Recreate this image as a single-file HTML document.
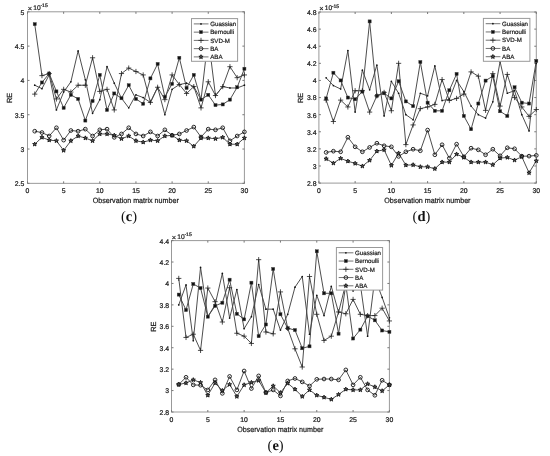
<!DOCTYPE html>
<html><head><meta charset="utf-8"><style>
html,body{margin:0;padding:0;background:#fff;}
svg{display:block;text-rendering:geometricPrecision;filter:blur(0.3px);}
.tl{font-family:"Liberation Sans",Arial,sans-serif;font-size:6.85px;fill:#1a1a1a;stroke:#1a1a1a;stroke-width:0.22px;}
.sup{font-size:5px;}
.xl{font-family:"Liberation Sans",Arial,sans-serif;font-size:7.6px;fill:#1a1a1a;stroke:#1a1a1a;stroke-width:0.22px;}
.lg{font-family:"Liberation Sans",Arial,sans-serif;font-size:6.15px;fill:#1a1a1a;stroke:#1a1a1a;stroke-width:0.2px;}
.cap{font-family:"Liberation Serif","Times New Roman",serif;font-size:14.5px;fill:#111;}
</style></head><body>
<svg width="550" height="456" viewBox="0 0 550 456">
<rect width="550" height="456" fill="#fff"/>
<rect x="27.5" y="11.8" width="216.9" height="171.55" fill="none" stroke="#999" stroke-width="1"/>
<path d="M27.5 183.35v-2M27.5 11.8v2M63.65 183.35v-2M63.65 11.8v2M99.8 183.35v-2M99.8 11.8v2M135.95 183.35v-2M135.95 11.8v2M172.1 183.35v-2M172.1 11.8v2M208.25 183.35v-2M208.25 11.8v2M244.4 183.35v-2M244.4 11.8v2M27.5 183.35h2M244.4 183.35h-2M27.5 149.04h2M244.4 149.04h-2M27.5 114.73h2M244.4 114.73h-2M27.5 80.42h2M244.4 80.42h-2M27.5 46.11h2M244.4 46.11h-2M27.5 11.8h2M244.4 11.8h-2" stroke="#777" stroke-width="1" fill="none"/>
<g>
<polyline points="34.73,85.22 41.96,88.65 49.19,74.93 56.42,109.93 63.65,92.09 70.88,81.79 78.11,50.91 85.34,79.73 92.57,113.36 99.8,99.63 107.03,66.7 114.26,83.16 121.49,98.26 128.72,107.87 135.95,94.83 143.18,97.58 150.41,102.38 157.64,87.28 164.87,114.73 172.1,89.34 179.33,84.54 186.56,83.16 193.79,86.6 201.02,99.63 208.25,37.19 215.48,95.52 222.71,86.6 229.94,87.97 237.17,87.97 244.4,85.22" fill="none" stroke="#444" stroke-width="0.95" stroke-linejoin="miter"/>
<polyline points="34.73,24.15 41.96,75.62 49.19,73.56 56.42,91.4 63.65,107.87 70.88,94.83 78.11,98.95 85.34,120.56 92.57,101.01 99.8,74.93 107.03,109.93 114.26,93.46 121.49,98.26 128.72,85.22 135.95,98.95 143.18,103.75 150.41,78.36 157.64,63.95 164.87,96.89 172.1,83.85 179.33,57.78 186.56,87.97 193.79,74.93 201.02,99.63 208.25,94.83 215.48,105.12 222.71,104.44 229.94,99.63 237.17,87.28 244.4,68.75" fill="none" stroke="#444" stroke-width="0.95" stroke-linejoin="miter"/>
<polyline points="34.73,94.14 41.96,82.48 49.19,73.56 56.42,98.95 63.65,89.34 70.88,92.09 78.11,85.22 85.34,85.22 92.57,57.78 99.8,91.4 107.03,89.34 114.26,109.93 121.49,73.56 128.72,68.07 135.95,71.5 143.18,74.93 150.41,102.38 157.64,87.28 164.87,99.63 172.1,74.93 179.33,84.54 186.56,93.46 193.79,86.6 201.02,107.87 208.25,81.79 215.48,95.52 222.71,86.6 229.94,66.7 237.17,77.68 244.4,74.93" fill="none" stroke="#444" stroke-width="0.95" stroke-linejoin="miter"/>
<polyline points="34.73,131.2 41.96,132.57 49.19,136 56.42,127.77 63.65,140.12 70.88,130.51 78.11,131.2 85.34,129.14 92.57,136 99.8,129.83 107.03,129.14 114.26,137.37 121.49,133.94 128.72,127.77 135.95,133.94 143.18,136 150.41,131.88 157.64,136 164.87,129.83 172.1,135.32 179.33,133.94 186.56,130.51 193.79,127.08 201.02,137.03 208.25,129.14 215.48,129.83 222.71,127.77 229.94,140.81 237.17,136 244.4,131.88" fill="none" stroke="#444" stroke-width="0.95" stroke-linejoin="miter"/>
<polyline points="34.73,144.24 41.96,137.37 49.19,140.12 56.42,140.81 63.65,150.41 70.88,140.81 78.11,136 85.34,138.06 92.57,140.81 99.8,133.94 107.03,133.94 114.26,135.32 121.49,138.75 128.72,136 135.95,140.81 143.18,142.18 150.41,140.12 157.64,140.81 164.87,136 172.1,135.32 179.33,140.12 186.56,140.81 193.79,146.3 201.02,138.06 208.25,138.06 215.48,138.75 222.71,137.37 229.94,144.24 237.17,144.24 244.4,138.06" fill="none" stroke="#444" stroke-width="0.95" stroke-linejoin="miter"/>
<circle cx="34.73" cy="85.22" r="0.85" fill="#111"/>
<circle cx="41.96" cy="88.65" r="0.85" fill="#111"/>
<circle cx="49.19" cy="74.93" r="0.85" fill="#111"/>
<circle cx="56.42" cy="109.93" r="0.85" fill="#111"/>
<circle cx="63.65" cy="92.09" r="0.85" fill="#111"/>
<circle cx="70.88" cy="81.79" r="0.85" fill="#111"/>
<circle cx="78.11" cy="50.91" r="0.85" fill="#111"/>
<circle cx="85.34" cy="79.73" r="0.85" fill="#111"/>
<circle cx="92.57" cy="113.36" r="0.85" fill="#111"/>
<circle cx="99.8" cy="99.63" r="0.85" fill="#111"/>
<circle cx="107.03" cy="66.7" r="0.85" fill="#111"/>
<circle cx="114.26" cy="83.16" r="0.85" fill="#111"/>
<circle cx="121.49" cy="98.26" r="0.85" fill="#111"/>
<circle cx="128.72" cy="107.87" r="0.85" fill="#111"/>
<circle cx="135.95" cy="94.83" r="0.85" fill="#111"/>
<circle cx="143.18" cy="97.58" r="0.85" fill="#111"/>
<circle cx="150.41" cy="102.38" r="0.85" fill="#111"/>
<circle cx="157.64" cy="87.28" r="0.85" fill="#111"/>
<circle cx="164.87" cy="114.73" r="0.85" fill="#111"/>
<circle cx="172.1" cy="89.34" r="0.85" fill="#111"/>
<circle cx="179.33" cy="84.54" r="0.85" fill="#111"/>
<circle cx="186.56" cy="83.16" r="0.85" fill="#111"/>
<circle cx="193.79" cy="86.6" r="0.85" fill="#111"/>
<circle cx="201.02" cy="99.63" r="0.85" fill="#111"/>
<circle cx="208.25" cy="37.19" r="0.85" fill="#111"/>
<circle cx="215.48" cy="95.52" r="0.85" fill="#111"/>
<circle cx="222.71" cy="86.6" r="0.85" fill="#111"/>
<circle cx="229.94" cy="87.97" r="0.85" fill="#111"/>
<circle cx="237.17" cy="87.97" r="0.85" fill="#111"/>
<circle cx="244.4" cy="85.22" r="0.85" fill="#111"/>
<rect x="33.18" y="22.6" width="3.1" height="3.1" fill="#111" stroke="#444" stroke-width="0.45"/>
<path d="M39.36 75.62H44.56M41.96 73.02V78.22" stroke="#222" stroke-width="0.8" fill="none"/>
<rect x="47.64" y="72.01" width="3.1" height="3.1" fill="#111" stroke="#444" stroke-width="0.45"/>
<rect x="54.87" y="89.85" width="3.1" height="3.1" fill="#111" stroke="#444" stroke-width="0.45"/>
<rect x="62.1" y="106.32" width="3.1" height="3.1" fill="#111" stroke="#444" stroke-width="0.45"/>
<rect x="69.33" y="93.28" width="3.1" height="3.1" fill="#111" stroke="#444" stroke-width="0.45"/>
<rect x="76.56" y="97.4" width="3.1" height="3.1" fill="#111" stroke="#444" stroke-width="0.45"/>
<rect x="83.79" y="119.01" width="3.1" height="3.1" fill="#111" stroke="#444" stroke-width="0.45"/>
<rect x="91.02" y="99.46" width="3.1" height="3.1" fill="#111" stroke="#444" stroke-width="0.45"/>
<rect x="98.25" y="73.38" width="3.1" height="3.1" fill="#111" stroke="#444" stroke-width="0.45"/>
<rect x="105.48" y="108.38" width="3.1" height="3.1" fill="#111" stroke="#444" stroke-width="0.45"/>
<rect x="112.71" y="91.91" width="3.1" height="3.1" fill="#111" stroke="#444" stroke-width="0.45"/>
<rect x="119.94" y="96.71" width="3.1" height="3.1" fill="#111" stroke="#444" stroke-width="0.45"/>
<rect x="127.17" y="83.67" width="3.1" height="3.1" fill="#111" stroke="#444" stroke-width="0.45"/>
<rect x="134.4" y="97.4" width="3.1" height="3.1" fill="#111" stroke="#444" stroke-width="0.45"/>
<rect x="141.63" y="102.2" width="3.1" height="3.1" fill="#111" stroke="#444" stroke-width="0.45"/>
<rect x="148.86" y="76.81" width="3.1" height="3.1" fill="#111" stroke="#444" stroke-width="0.45"/>
<rect x="156.09" y="62.4" width="3.1" height="3.1" fill="#111" stroke="#444" stroke-width="0.45"/>
<rect x="163.32" y="95.34" width="3.1" height="3.1" fill="#111" stroke="#444" stroke-width="0.45"/>
<rect x="170.55" y="82.3" width="3.1" height="3.1" fill="#111" stroke="#444" stroke-width="0.45"/>
<rect x="177.78" y="56.23" width="3.1" height="3.1" fill="#111" stroke="#444" stroke-width="0.45"/>
<rect x="185.01" y="86.42" width="3.1" height="3.1" fill="#111" stroke="#444" stroke-width="0.45"/>
<rect x="192.24" y="73.38" width="3.1" height="3.1" fill="#111" stroke="#444" stroke-width="0.45"/>
<rect x="199.47" y="98.08" width="3.1" height="3.1" fill="#111" stroke="#444" stroke-width="0.45"/>
<rect x="206.7" y="93.28" width="3.1" height="3.1" fill="#111" stroke="#444" stroke-width="0.45"/>
<rect x="213.93" y="103.57" width="3.1" height="3.1" fill="#111" stroke="#444" stroke-width="0.45"/>
<rect x="221.16" y="102.89" width="3.1" height="3.1" fill="#111" stroke="#444" stroke-width="0.45"/>
<rect x="228.39" y="98.08" width="3.1" height="3.1" fill="#111" stroke="#444" stroke-width="0.45"/>
<rect x="235.62" y="85.73" width="3.1" height="3.1" fill="#111" stroke="#444" stroke-width="0.45"/>
<rect x="242.85" y="67.2" width="3.1" height="3.1" fill="#111" stroke="#444" stroke-width="0.45"/>
<path d="M32.13 94.14H37.33M34.73 91.54V96.74" stroke="#222" stroke-width="0.8" fill="none"/>
<rect x="40.41" y="80.93" width="3.1" height="3.1" fill="#111" stroke="#444" stroke-width="0.45"/>
<path d="M46.59 73.56H51.79M49.19 70.96V76.16" stroke="#222" stroke-width="0.8" fill="none"/>
<path d="M53.82 98.95H59.02M56.42 96.35V101.55" stroke="#222" stroke-width="0.8" fill="none"/>
<path d="M61.05 89.34H66.25M63.65 86.74V91.94" stroke="#222" stroke-width="0.8" fill="none"/>
<path d="M68.28 92.09H73.48M70.88 89.49V94.69" stroke="#222" stroke-width="0.8" fill="none"/>
<path d="M75.51 85.22H80.71M78.11 82.62V87.82" stroke="#222" stroke-width="0.8" fill="none"/>
<path d="M82.74 85.22H87.94M85.34 82.62V87.82" stroke="#222" stroke-width="0.8" fill="none"/>
<path d="M89.97 57.78H95.17M92.57 55.18V60.38" stroke="#222" stroke-width="0.8" fill="none"/>
<path d="M97.2 91.4H102.4M99.8 88.8V94" stroke="#222" stroke-width="0.8" fill="none"/>
<path d="M104.43 89.34H109.63M107.03 86.74V91.94" stroke="#222" stroke-width="0.8" fill="none"/>
<path d="M111.66 109.93H116.86M114.26 107.33V112.53" stroke="#222" stroke-width="0.8" fill="none"/>
<path d="M118.89 73.56H124.09M121.49 70.96V76.16" stroke="#222" stroke-width="0.8" fill="none"/>
<path d="M126.12 68.07H131.32M128.72 65.47V70.67" stroke="#222" stroke-width="0.8" fill="none"/>
<path d="M133.35 71.5H138.55M135.95 68.9V74.1" stroke="#222" stroke-width="0.8" fill="none"/>
<path d="M140.58 74.93H145.78M143.18 72.33V77.53" stroke="#222" stroke-width="0.8" fill="none"/>
<path d="M147.81 102.38H153.01M150.41 99.78V104.98" stroke="#222" stroke-width="0.8" fill="none"/>
<path d="M155.04 87.28H160.24M157.64 84.68V89.88" stroke="#222" stroke-width="0.8" fill="none"/>
<path d="M162.27 99.63H167.47M164.87 97.03V102.23" stroke="#222" stroke-width="0.8" fill="none"/>
<path d="M169.5 74.93H174.7M172.1 72.33V77.53" stroke="#222" stroke-width="0.8" fill="none"/>
<path d="M176.73 84.54H181.93M179.33 81.94V87.14" stroke="#222" stroke-width="0.8" fill="none"/>
<path d="M183.96 93.46H189.16M186.56 90.86V96.06" stroke="#222" stroke-width="0.8" fill="none"/>
<path d="M191.19 86.6H196.39M193.79 84V89.2" stroke="#222" stroke-width="0.8" fill="none"/>
<path d="M198.42 107.87H203.62M201.02 105.27V110.47" stroke="#222" stroke-width="0.8" fill="none"/>
<path d="M205.65 81.79H210.85M208.25 79.19V84.39" stroke="#222" stroke-width="0.8" fill="none"/>
<path d="M212.88 95.52H218.08M215.48 92.92V98.12" stroke="#222" stroke-width="0.8" fill="none"/>
<path d="M220.11 86.6H225.31M222.71 84V89.2" stroke="#222" stroke-width="0.8" fill="none"/>
<path d="M227.34 66.7H232.54M229.94 64.1V69.3" stroke="#222" stroke-width="0.8" fill="none"/>
<path d="M234.57 77.68H239.77M237.17 75.08V80.28" stroke="#222" stroke-width="0.8" fill="none"/>
<path d="M241.8 74.93H247M244.4 72.33V77.53" stroke="#222" stroke-width="0.8" fill="none"/>
<circle cx="34.73" cy="131.2" r="1.85" fill="none" stroke="#111" stroke-width="0.9"/>
<circle cx="41.96" cy="132.57" r="1.85" fill="none" stroke="#111" stroke-width="0.9"/>
<circle cx="49.19" cy="136" r="1.85" fill="none" stroke="#111" stroke-width="0.9"/>
<circle cx="56.42" cy="127.77" r="1.85" fill="none" stroke="#111" stroke-width="0.9"/>
<circle cx="63.65" cy="140.12" r="1.85" fill="none" stroke="#111" stroke-width="0.9"/>
<circle cx="70.88" cy="130.51" r="1.85" fill="none" stroke="#111" stroke-width="0.9"/>
<circle cx="78.11" cy="131.2" r="1.85" fill="none" stroke="#111" stroke-width="0.9"/>
<circle cx="85.34" cy="129.14" r="1.85" fill="none" stroke="#111" stroke-width="0.9"/>
<circle cx="92.57" cy="136" r="1.85" fill="none" stroke="#111" stroke-width="0.9"/>
<circle cx="99.8" cy="129.83" r="1.85" fill="none" stroke="#111" stroke-width="0.9"/>
<circle cx="107.03" cy="129.14" r="1.85" fill="none" stroke="#111" stroke-width="0.9"/>
<circle cx="114.26" cy="137.37" r="1.85" fill="none" stroke="#111" stroke-width="0.9"/>
<circle cx="121.49" cy="133.94" r="1.85" fill="none" stroke="#111" stroke-width="0.9"/>
<circle cx="128.72" cy="127.77" r="1.85" fill="none" stroke="#111" stroke-width="0.9"/>
<circle cx="135.95" cy="133.94" r="1.85" fill="none" stroke="#111" stroke-width="0.9"/>
<circle cx="143.18" cy="136" r="1.85" fill="none" stroke="#111" stroke-width="0.9"/>
<circle cx="150.41" cy="131.88" r="1.85" fill="none" stroke="#111" stroke-width="0.9"/>
<circle cx="157.64" cy="136" r="1.85" fill="none" stroke="#111" stroke-width="0.9"/>
<circle cx="164.87" cy="129.83" r="1.85" fill="none" stroke="#111" stroke-width="0.9"/>
<circle cx="172.1" cy="135.32" r="1.85" fill="none" stroke="#111" stroke-width="0.9"/>
<circle cx="179.33" cy="133.94" r="1.85" fill="none" stroke="#111" stroke-width="0.9"/>
<circle cx="186.56" cy="130.51" r="1.85" fill="none" stroke="#111" stroke-width="0.9"/>
<circle cx="193.79" cy="127.08" r="1.85" fill="none" stroke="#111" stroke-width="0.9"/>
<circle cx="201.02" cy="137.03" r="1.85" fill="none" stroke="#111" stroke-width="0.9"/>
<circle cx="208.25" cy="129.14" r="1.85" fill="none" stroke="#111" stroke-width="0.9"/>
<circle cx="215.48" cy="129.83" r="1.85" fill="none" stroke="#111" stroke-width="0.9"/>
<circle cx="222.71" cy="127.77" r="1.85" fill="none" stroke="#111" stroke-width="0.9"/>
<circle cx="229.94" cy="140.81" r="1.85" fill="none" stroke="#111" stroke-width="0.9"/>
<circle cx="237.17" cy="136" r="1.85" fill="none" stroke="#111" stroke-width="0.9"/>
<circle cx="244.4" cy="131.88" r="1.85" fill="none" stroke="#111" stroke-width="0.9"/>
<polygon points="34.73,142.04 35.29,143.47 36.82,143.56 35.63,144.53 36.02,146.02 34.73,145.19 33.44,146.02 33.83,144.53 32.64,143.56 34.17,143.47" fill="#555" stroke="#111" stroke-width="0.85" stroke-linejoin="miter"/>
<polygon points="41.96,135.17 42.52,136.61 44.05,136.69 42.86,137.67 43.25,139.15 41.96,138.32 40.67,139.15 41.06,137.67 39.87,136.69 41.4,136.61" fill="#555" stroke="#111" stroke-width="0.85" stroke-linejoin="miter"/>
<polygon points="49.19,137.92 49.75,139.35 51.28,139.44 50.09,140.41 50.48,141.9 49.19,141.07 47.9,141.9 48.29,140.41 47.1,139.44 48.63,139.35" fill="#555" stroke="#111" stroke-width="0.85" stroke-linejoin="miter"/>
<polygon points="56.42,138.61 56.98,140.04 58.51,140.13 57.32,141.1 57.71,142.59 56.42,141.76 55.13,142.59 55.52,141.1 54.33,140.13 55.86,140.04" fill="#555" stroke="#111" stroke-width="0.85" stroke-linejoin="miter"/>
<polygon points="63.65,148.21 64.21,149.64 65.74,149.73 64.55,150.71 64.94,152.19 63.65,151.36 62.36,152.19 62.75,150.71 61.56,149.73 63.09,149.64" fill="#555" stroke="#111" stroke-width="0.85" stroke-linejoin="miter"/>
<polygon points="70.88,138.61 71.44,140.04 72.97,140.13 71.78,141.1 72.17,142.59 70.88,141.76 69.59,142.59 69.98,141.1 68.79,140.13 70.32,140.04" fill="#555" stroke="#111" stroke-width="0.85" stroke-linejoin="miter"/>
<polygon points="78.11,133.8 78.67,135.23 80.2,135.32 79.01,136.3 79.4,137.78 78.11,136.95 76.82,137.78 77.21,136.3 76.02,135.32 77.55,135.23" fill="#555" stroke="#111" stroke-width="0.85" stroke-linejoin="miter"/>
<polygon points="85.34,135.86 85.9,137.29 87.43,137.38 86.24,138.35 86.63,139.84 85.34,139.01 84.05,139.84 84.44,138.35 83.25,137.38 84.78,137.29" fill="#555" stroke="#111" stroke-width="0.85" stroke-linejoin="miter"/>
<polygon points="92.57,138.61 93.13,140.04 94.66,140.13 93.47,141.1 93.86,142.59 92.57,141.76 91.28,142.59 91.67,141.1 90.48,140.13 92.01,140.04" fill="#555" stroke="#111" stroke-width="0.85" stroke-linejoin="miter"/>
<polygon points="99.8,131.74 100.36,133.18 101.89,133.26 100.7,134.24 101.09,135.72 99.8,134.89 98.51,135.72 98.9,134.24 97.71,133.26 99.24,133.18" fill="#555" stroke="#111" stroke-width="0.85" stroke-linejoin="miter"/>
<polygon points="107.03,131.74 107.59,133.18 109.12,133.26 107.93,134.24 108.32,135.72 107.03,134.89 105.74,135.72 106.13,134.24 104.94,133.26 106.47,133.18" fill="#555" stroke="#111" stroke-width="0.85" stroke-linejoin="miter"/>
<polygon points="114.26,133.12 114.82,134.55 116.35,134.64 115.16,135.61 115.55,137.1 114.26,136.27 112.97,137.1 113.36,135.61 112.17,134.64 113.7,134.55" fill="#555" stroke="#111" stroke-width="0.85" stroke-linejoin="miter"/>
<polygon points="121.49,136.55 122.05,137.98 123.58,138.07 122.39,139.04 122.78,140.53 121.49,139.7 120.2,140.53 120.59,139.04 119.4,138.07 120.93,137.98" fill="#555" stroke="#111" stroke-width="0.85" stroke-linejoin="miter"/>
<polygon points="128.72,133.8 129.28,135.23 130.81,135.32 129.62,136.3 130.01,137.78 128.72,136.95 127.43,137.78 127.82,136.3 126.63,135.32 128.16,135.23" fill="#555" stroke="#111" stroke-width="0.85" stroke-linejoin="miter"/>
<polygon points="135.95,138.61 136.51,140.04 138.04,140.13 136.85,141.1 137.24,142.59 135.95,141.76 134.66,142.59 135.05,141.1 133.86,140.13 135.39,140.04" fill="#555" stroke="#111" stroke-width="0.85" stroke-linejoin="miter"/>
<polygon points="143.18,139.98 143.74,141.41 145.27,141.5 144.08,142.47 144.47,143.96 143.18,143.13 141.89,143.96 142.28,142.47 141.09,141.5 142.62,141.41" fill="#555" stroke="#111" stroke-width="0.85" stroke-linejoin="miter"/>
<polygon points="150.41,137.92 150.97,139.35 152.5,139.44 151.31,140.41 151.7,141.9 150.41,141.07 149.12,141.9 149.51,140.41 148.32,139.44 149.85,139.35" fill="#555" stroke="#111" stroke-width="0.85" stroke-linejoin="miter"/>
<polygon points="157.64,138.61 158.2,140.04 159.73,140.13 158.54,141.1 158.93,142.59 157.64,141.76 156.35,142.59 156.74,141.1 155.55,140.13 157.08,140.04" fill="#555" stroke="#111" stroke-width="0.85" stroke-linejoin="miter"/>
<polygon points="164.87,133.8 165.43,135.23 166.96,135.32 165.77,136.3 166.16,137.78 164.87,136.95 163.58,137.78 163.97,136.3 162.78,135.32 164.31,135.23" fill="#555" stroke="#111" stroke-width="0.85" stroke-linejoin="miter"/>
<polygon points="172.1,133.12 172.66,134.55 174.19,134.64 173,135.61 173.39,137.1 172.1,136.27 170.81,137.1 171.2,135.61 170.01,134.64 171.54,134.55" fill="#555" stroke="#111" stroke-width="0.85" stroke-linejoin="miter"/>
<polygon points="179.33,137.92 179.89,139.35 181.42,139.44 180.23,140.41 180.62,141.9 179.33,141.07 178.04,141.9 178.43,140.41 177.24,139.44 178.77,139.35" fill="#555" stroke="#111" stroke-width="0.85" stroke-linejoin="miter"/>
<polygon points="186.56,138.61 187.12,140.04 188.65,140.13 187.46,141.1 187.85,142.59 186.56,141.76 185.27,142.59 185.66,141.1 184.47,140.13 186,140.04" fill="#555" stroke="#111" stroke-width="0.85" stroke-linejoin="miter"/>
<polygon points="193.79,144.1 194.35,145.53 195.88,145.62 194.69,146.59 195.08,148.08 193.79,147.25 192.5,148.08 192.89,146.59 191.7,145.62 193.23,145.53" fill="#555" stroke="#111" stroke-width="0.85" stroke-linejoin="miter"/>
<polygon points="201.02,135.86 201.58,137.29 203.11,137.38 201.92,138.35 202.31,139.84 201.02,139.01 199.73,139.84 200.12,138.35 198.93,137.38 200.46,137.29" fill="#555" stroke="#111" stroke-width="0.85" stroke-linejoin="miter"/>
<polygon points="208.25,135.86 208.81,137.29 210.34,137.38 209.15,138.35 209.54,139.84 208.25,139.01 206.96,139.84 207.35,138.35 206.16,137.38 207.69,137.29" fill="#555" stroke="#111" stroke-width="0.85" stroke-linejoin="miter"/>
<polygon points="215.48,136.55 216.04,137.98 217.57,138.07 216.38,139.04 216.77,140.53 215.48,139.7 214.19,140.53 214.58,139.04 213.39,138.07 214.92,137.98" fill="#555" stroke="#111" stroke-width="0.85" stroke-linejoin="miter"/>
<polygon points="222.71,135.17 223.27,136.61 224.8,136.69 223.61,137.67 224,139.15 222.71,138.32 221.42,139.15 221.81,137.67 220.62,136.69 222.15,136.61" fill="#555" stroke="#111" stroke-width="0.85" stroke-linejoin="miter"/>
<polygon points="229.94,142.04 230.5,143.47 232.03,143.56 230.84,144.53 231.23,146.02 229.94,145.19 228.65,146.02 229.04,144.53 227.85,143.56 229.38,143.47" fill="#555" stroke="#111" stroke-width="0.85" stroke-linejoin="miter"/>
<polygon points="237.17,142.04 237.73,143.47 239.26,143.56 238.07,144.53 238.46,146.02 237.17,145.19 235.88,146.02 236.27,144.53 235.08,143.56 236.61,143.47" fill="#555" stroke="#111" stroke-width="0.85" stroke-linejoin="miter"/>
<polygon points="244.4,135.86 244.96,137.29 246.49,137.38 245.3,138.35 245.69,139.84 244.4,139.01 243.11,139.84 243.5,138.35 242.31,137.38 243.84,137.29" fill="#555" stroke="#111" stroke-width="0.85" stroke-linejoin="miter"/>
</g>
<text x="27.5" y="193.15" class="tl" text-anchor="middle">0</text>
<text x="63.65" y="193.15" class="tl" text-anchor="middle">5</text>
<text x="99.8" y="193.15" class="tl" text-anchor="middle">10</text>
<text x="135.95" y="193.15" class="tl" text-anchor="middle">15</text>
<text x="172.1" y="193.15" class="tl" text-anchor="middle">20</text>
<text x="208.25" y="193.15" class="tl" text-anchor="middle">25</text>
<text x="244.4" y="193.15" class="tl" text-anchor="middle">30</text>
<text x="24.2" y="186.25" class="tl" text-anchor="end">2.5</text>
<text x="24.2" y="151.94" class="tl" text-anchor="end">3</text>
<text x="24.2" y="117.63" class="tl" text-anchor="end">3.5</text>
<text x="24.2" y="83.32" class="tl" text-anchor="end">4</text>
<text x="24.2" y="49.01" class="tl" text-anchor="end">4.5</text>
<text x="24.2" y="14.7" class="tl" text-anchor="end">5</text>
<text x="27.8" y="11" class="tl" style="font-size:7.4px">×</text>
<text x="33.3" y="9.9" class="tl" style="font-size:6.7px">10</text>
<text x="40.4" y="7.3" class="tl" style="font-size:5.1px">-15</text>
<text x="92.65" y="202.95" class="xl" textLength="86.2" lengthAdjust="spacingAndGlyphs">Observation matrix number</text>
<text transform="translate(11.6,97.98) rotate(-90)" class="tl" style="font-size:7.4px" text-anchor="middle">RE</text>
<rect x="191.5" y="18.6" width="46.1" height="42.7" fill="#fff" stroke="#999" stroke-width="1"/>
<line x1="193.8" y1="23.9" x2="208.5" y2="23.9" stroke="#444" stroke-width="0.75"/>
<circle cx="201" cy="23.9" r="0.85" fill="#111"/>
<text x="210.2" y="26.1" class="lg">Guassian</text>
<line x1="193.8" y1="32.15" x2="208.5" y2="32.15" stroke="#444" stroke-width="0.75"/>
<rect x="199.45" y="30.6" width="3.1" height="3.1" fill="#111" stroke="#444" stroke-width="0.45"/>
<text x="210.2" y="34.35" class="lg">Bernoulli</text>
<line x1="193.8" y1="40.4" x2="208.5" y2="40.4" stroke="#444" stroke-width="0.75"/>
<path d="M198.4 40.4H203.6M201 37.8V43" stroke="#222" stroke-width="0.8" fill="none"/>
<text x="210.2" y="42.6" class="lg">SVD-M</text>
<line x1="193.8" y1="48.65" x2="208.5" y2="48.65" stroke="#444" stroke-width="0.75"/>
<circle cx="201" cy="48.65" r="1.85" fill="none" stroke="#111" stroke-width="0.9"/>
<text x="210.2" y="50.85" class="lg">BA</text>
<line x1="193.8" y1="56.9" x2="208.5" y2="56.9" stroke="#444" stroke-width="0.75"/>
<polygon points="201,54.7 201.56,56.13 203.09,56.22 201.9,57.19 202.29,58.68 201,57.85 199.71,58.68 200.1,57.19 198.91,56.22 200.44,56.13" fill="#555" stroke="#111" stroke-width="0.85" stroke-linejoin="miter"/>
<text x="210.2" y="59.1" class="lg">ABA</text>
<text x="129" y="220.8" class="cap" text-anchor="middle">(<tspan font-weight="bold">c</tspan>)</text>
<rect x="318.9" y="12" width="217.4" height="171.1" fill="none" stroke="#999" stroke-width="1"/>
<path d="M318.9 183.1v-2M318.9 12v2M355.13 183.1v-2M355.13 12v2M391.37 183.1v-2M391.37 12v2M427.6 183.1v-2M427.6 12v2M463.83 183.1v-2M463.83 12v2M500.07 183.1v-2M500.07 12v2M536.3 183.1v-2M536.3 12v2M318.9 183.1h2M536.3 183.1h-2M318.9 165.99h2M536.3 165.99h-2M318.9 148.88h2M536.3 148.88h-2M318.9 131.77h2M536.3 131.77h-2M318.9 114.66h2M536.3 114.66h-2M318.9 97.55h2M536.3 97.55h-2M318.9 80.44h2M536.3 80.44h-2M318.9 63.33h2M536.3 63.33h-2M318.9 46.22h2M536.3 46.22h-2M318.9 29.11h2M536.3 29.11h-2M318.9 12h2M536.3 12h-2" stroke="#777" stroke-width="1" fill="none"/>
<g>
<polyline points="326.15,77.87 333.39,85.57 340.64,88.99 347.89,50.5 355.13,112.09 362.38,70.17 369.63,89.85 376.87,65.04 384.12,115.94 391.37,81.3 398.61,93.27 405.86,114.66 413.11,119.79 420.35,93.27 427.6,95.84 434.85,65.9 442.09,100.54 449.34,99.26 456.59,80.44 463.83,91.56 471.08,106.1 478.33,114.66 485.57,118.08 492.82,101.83 500.07,61.62 507.31,93.27 514.56,90.71 521.81,114.66 529.05,130.91 536.3,63.33" fill="none" stroke="#444" stroke-width="0.95" stroke-linejoin="miter"/>
<polyline points="326.15,98.41 333.39,72.74 340.64,80.44 347.89,97.55 355.13,99.26 362.38,91.56 369.63,21.41 376.87,95.84 384.12,93.27 391.37,98.41 398.61,81.3 405.86,101.4 413.11,106.1 420.35,62.05 427.6,102.68 434.85,110.81 442.09,110.81 449.34,90.28 456.59,73.94 463.83,115.94 471.08,129.2 478.33,103.54 485.57,80.61 492.82,76.16 500.07,111.24 507.31,115.94 514.56,87.28 521.81,102.68 529.05,103.54 536.3,60.93" fill="none" stroke="#444" stroke-width="0.95" stroke-linejoin="miter"/>
<polyline points="326.15,100.12 333.39,121.5 340.64,100.12 347.89,106.96 355.13,90.71 362.38,90.71 369.63,112.09 376.87,95.84 384.12,92.42 391.37,110.72 398.61,63.33 405.86,144.6 413.11,124.93 420.35,108.67 427.6,106.96 434.85,104.39 442.09,79.58 449.34,100.54 456.59,98.41 463.83,94.13 471.08,71.89 478.33,76.16 485.57,110.38 492.82,73.6 500.07,106.1 507.31,74.45 514.56,97.55 521.81,106.96 529.05,116.37 536.3,109.53" fill="none" stroke="#444" stroke-width="0.95" stroke-linejoin="miter"/>
<polyline points="326.15,152.39 333.39,151.19 340.64,151.79 347.89,137.25 355.13,146.83 362.38,151.79 369.63,147.43 376.87,143.23 384.12,145.8 391.37,146.83 398.61,156.41 405.86,151.79 413.11,149.22 420.35,150.76 427.6,130.06 434.85,154.78 442.09,144.77 449.34,158.2 456.59,144.17 463.83,156.75 471.08,148.2 478.33,149.82 485.57,154.78 492.82,149.22 500.07,155.81 507.31,147.77 514.56,148.79 521.81,156.15 529.05,156.15 536.3,155.38" fill="none" stroke="#444" stroke-width="0.95" stroke-linejoin="miter"/>
<polyline points="326.15,158.8 333.39,163.17 340.64,158.38 347.89,161.2 355.13,163.42 362.38,166.16 369.63,160.34 376.87,151.19 384.12,149.82 391.37,165.39 398.61,153.16 405.86,165.13 413.11,164.88 420.35,166.85 427.6,166.85 434.85,168.73 442.09,162.14 449.34,162.14 456.59,154.18 463.83,157.43 471.08,162.14 478.33,162.14 485.57,162.14 492.82,164.79 500.07,158.2 507.31,157.43 514.56,160.17 521.81,156.75 529.05,172.83 536.3,160.86" fill="none" stroke="#444" stroke-width="0.95" stroke-linejoin="miter"/>
<circle cx="326.15" cy="77.87" r="0.85" fill="#111"/>
<circle cx="333.39" cy="85.57" r="0.85" fill="#111"/>
<circle cx="340.64" cy="88.99" r="0.85" fill="#111"/>
<circle cx="347.89" cy="50.5" r="0.85" fill="#111"/>
<circle cx="355.13" cy="112.09" r="0.85" fill="#111"/>
<circle cx="362.38" cy="70.17" r="0.85" fill="#111"/>
<circle cx="369.63" cy="89.85" r="0.85" fill="#111"/>
<circle cx="376.87" cy="65.04" r="0.85" fill="#111"/>
<circle cx="384.12" cy="115.94" r="0.85" fill="#111"/>
<circle cx="391.37" cy="81.3" r="0.85" fill="#111"/>
<circle cx="398.61" cy="93.27" r="0.85" fill="#111"/>
<circle cx="405.86" cy="114.66" r="0.85" fill="#111"/>
<circle cx="413.11" cy="119.79" r="0.85" fill="#111"/>
<circle cx="420.35" cy="93.27" r="0.85" fill="#111"/>
<circle cx="427.6" cy="95.84" r="0.85" fill="#111"/>
<circle cx="434.85" cy="65.9" r="0.85" fill="#111"/>
<circle cx="442.09" cy="100.54" r="0.85" fill="#111"/>
<circle cx="449.34" cy="99.26" r="0.85" fill="#111"/>
<circle cx="456.59" cy="80.44" r="0.85" fill="#111"/>
<circle cx="463.83" cy="91.56" r="0.85" fill="#111"/>
<circle cx="471.08" cy="106.1" r="0.85" fill="#111"/>
<circle cx="478.33" cy="114.66" r="0.85" fill="#111"/>
<circle cx="485.57" cy="118.08" r="0.85" fill="#111"/>
<circle cx="492.82" cy="101.83" r="0.85" fill="#111"/>
<circle cx="500.07" cy="61.62" r="0.85" fill="#111"/>
<circle cx="507.31" cy="93.27" r="0.85" fill="#111"/>
<circle cx="514.56" cy="90.71" r="0.85" fill="#111"/>
<circle cx="521.81" cy="114.66" r="0.85" fill="#111"/>
<circle cx="529.05" cy="130.91" r="0.85" fill="#111"/>
<circle cx="536.3" cy="63.33" r="0.85" fill="#111"/>
<rect x="324.6" y="96.86" width="3.1" height="3.1" fill="#111" stroke="#444" stroke-width="0.45"/>
<rect x="331.84" y="71.19" width="3.1" height="3.1" fill="#111" stroke="#444" stroke-width="0.45"/>
<rect x="339.09" y="78.89" width="3.1" height="3.1" fill="#111" stroke="#444" stroke-width="0.45"/>
<rect x="346.34" y="96" width="3.1" height="3.1" fill="#111" stroke="#444" stroke-width="0.45"/>
<rect x="353.58" y="97.71" width="3.1" height="3.1" fill="#111" stroke="#444" stroke-width="0.45"/>
<rect x="360.83" y="90.01" width="3.1" height="3.1" fill="#111" stroke="#444" stroke-width="0.45"/>
<rect x="368.08" y="19.86" width="3.1" height="3.1" fill="#111" stroke="#444" stroke-width="0.45"/>
<rect x="375.32" y="94.29" width="3.1" height="3.1" fill="#111" stroke="#444" stroke-width="0.45"/>
<rect x="382.57" y="91.72" width="3.1" height="3.1" fill="#111" stroke="#444" stroke-width="0.45"/>
<rect x="389.82" y="96.86" width="3.1" height="3.1" fill="#111" stroke="#444" stroke-width="0.45"/>
<rect x="397.06" y="79.75" width="3.1" height="3.1" fill="#111" stroke="#444" stroke-width="0.45"/>
<rect x="404.31" y="99.85" width="3.1" height="3.1" fill="#111" stroke="#444" stroke-width="0.45"/>
<rect x="411.56" y="104.55" width="3.1" height="3.1" fill="#111" stroke="#444" stroke-width="0.45"/>
<rect x="418.8" y="60.5" width="3.1" height="3.1" fill="#111" stroke="#444" stroke-width="0.45"/>
<rect x="426.05" y="101.13" width="3.1" height="3.1" fill="#111" stroke="#444" stroke-width="0.45"/>
<rect x="433.3" y="109.26" width="3.1" height="3.1" fill="#111" stroke="#444" stroke-width="0.45"/>
<rect x="440.54" y="109.26" width="3.1" height="3.1" fill="#111" stroke="#444" stroke-width="0.45"/>
<rect x="447.79" y="88.73" width="3.1" height="3.1" fill="#111" stroke="#444" stroke-width="0.45"/>
<rect x="455.04" y="72.39" width="3.1" height="3.1" fill="#111" stroke="#444" stroke-width="0.45"/>
<rect x="462.28" y="114.39" width="3.1" height="3.1" fill="#111" stroke="#444" stroke-width="0.45"/>
<rect x="469.53" y="127.65" width="3.1" height="3.1" fill="#111" stroke="#444" stroke-width="0.45"/>
<rect x="476.78" y="101.99" width="3.1" height="3.1" fill="#111" stroke="#444" stroke-width="0.45"/>
<rect x="484.02" y="79.06" width="3.1" height="3.1" fill="#111" stroke="#444" stroke-width="0.45"/>
<rect x="491.27" y="74.61" width="3.1" height="3.1" fill="#111" stroke="#444" stroke-width="0.45"/>
<rect x="498.52" y="109.69" width="3.1" height="3.1" fill="#111" stroke="#444" stroke-width="0.45"/>
<rect x="505.76" y="114.39" width="3.1" height="3.1" fill="#111" stroke="#444" stroke-width="0.45"/>
<rect x="513.01" y="85.73" width="3.1" height="3.1" fill="#111" stroke="#444" stroke-width="0.45"/>
<rect x="520.26" y="101.13" width="3.1" height="3.1" fill="#111" stroke="#444" stroke-width="0.45"/>
<rect x="527.5" y="101.99" width="3.1" height="3.1" fill="#111" stroke="#444" stroke-width="0.45"/>
<rect x="534.75" y="59.38" width="3.1" height="3.1" fill="#111" stroke="#444" stroke-width="0.45"/>
<path d="M323.55 100.12H328.75M326.15 97.52V102.72" stroke="#222" stroke-width="0.8" fill="none"/>
<path d="M330.79 121.5H335.99M333.39 118.9V124.1" stroke="#222" stroke-width="0.8" fill="none"/>
<path d="M338.04 100.12H343.24M340.64 97.52V102.72" stroke="#222" stroke-width="0.8" fill="none"/>
<path d="M345.29 106.96H350.49M347.89 104.36V109.56" stroke="#222" stroke-width="0.8" fill="none"/>
<path d="M352.53 90.71H357.73M355.13 88.11V93.31" stroke="#222" stroke-width="0.8" fill="none"/>
<path d="M359.78 90.71H364.98M362.38 88.11V93.31" stroke="#222" stroke-width="0.8" fill="none"/>
<path d="M367.03 112.09H372.23M369.63 109.49V114.69" stroke="#222" stroke-width="0.8" fill="none"/>
<path d="M374.27 95.84H379.47M376.87 93.24V98.44" stroke="#222" stroke-width="0.8" fill="none"/>
<path d="M381.52 92.42H386.72M384.12 89.82V95.02" stroke="#222" stroke-width="0.8" fill="none"/>
<path d="M388.77 110.72H393.97M391.37 108.12V113.32" stroke="#222" stroke-width="0.8" fill="none"/>
<path d="M396.01 63.33H401.21M398.61 60.73V65.93" stroke="#222" stroke-width="0.8" fill="none"/>
<path d="M403.26 144.6H408.46M405.86 142V147.2" stroke="#222" stroke-width="0.8" fill="none"/>
<path d="M410.51 124.93H415.71M413.11 122.33V127.53" stroke="#222" stroke-width="0.8" fill="none"/>
<path d="M417.75 108.67H422.95M420.35 106.07V111.27" stroke="#222" stroke-width="0.8" fill="none"/>
<path d="M425 106.96H430.2M427.6 104.36V109.56" stroke="#222" stroke-width="0.8" fill="none"/>
<path d="M432.25 104.39H437.45M434.85 101.79V106.99" stroke="#222" stroke-width="0.8" fill="none"/>
<path d="M439.49 79.58H444.69M442.09 76.98V82.18" stroke="#222" stroke-width="0.8" fill="none"/>
<path d="M446.74 100.54H451.94M449.34 97.94V103.14" stroke="#222" stroke-width="0.8" fill="none"/>
<path d="M453.99 98.41H459.19M456.59 95.81V101.01" stroke="#222" stroke-width="0.8" fill="none"/>
<path d="M461.23 94.13H466.43M463.83 91.53V96.73" stroke="#222" stroke-width="0.8" fill="none"/>
<path d="M468.48 71.89H473.68M471.08 69.29V74.49" stroke="#222" stroke-width="0.8" fill="none"/>
<path d="M475.73 76.16H480.93M478.33 73.56V78.76" stroke="#222" stroke-width="0.8" fill="none"/>
<path d="M482.97 110.38H488.17M485.57 107.78V112.98" stroke="#222" stroke-width="0.8" fill="none"/>
<path d="M490.22 73.6H495.42M492.82 71V76.2" stroke="#222" stroke-width="0.8" fill="none"/>
<path d="M497.47 106.1H502.67M500.07 103.5V108.7" stroke="#222" stroke-width="0.8" fill="none"/>
<path d="M504.71 74.45H509.91M507.31 71.85V77.05" stroke="#222" stroke-width="0.8" fill="none"/>
<path d="M511.96 97.55H517.16M514.56 94.95V100.15" stroke="#222" stroke-width="0.8" fill="none"/>
<path d="M519.21 106.96H524.41M521.81 104.36V109.56" stroke="#222" stroke-width="0.8" fill="none"/>
<path d="M526.45 116.37H531.65M529.05 113.77V118.97" stroke="#222" stroke-width="0.8" fill="none"/>
<path d="M533.7 109.53H538.9M536.3 106.93V112.13" stroke="#222" stroke-width="0.8" fill="none"/>
<circle cx="326.15" cy="152.39" r="1.85" fill="none" stroke="#111" stroke-width="0.9"/>
<circle cx="333.39" cy="151.19" r="1.85" fill="none" stroke="#111" stroke-width="0.9"/>
<circle cx="340.64" cy="151.79" r="1.85" fill="none" stroke="#111" stroke-width="0.9"/>
<circle cx="347.89" cy="137.25" r="1.85" fill="none" stroke="#111" stroke-width="0.9"/>
<circle cx="355.13" cy="146.83" r="1.85" fill="none" stroke="#111" stroke-width="0.9"/>
<circle cx="362.38" cy="151.79" r="1.85" fill="none" stroke="#111" stroke-width="0.9"/>
<circle cx="369.63" cy="147.43" r="1.85" fill="none" stroke="#111" stroke-width="0.9"/>
<circle cx="376.87" cy="143.23" r="1.85" fill="none" stroke="#111" stroke-width="0.9"/>
<circle cx="384.12" cy="145.8" r="1.85" fill="none" stroke="#111" stroke-width="0.9"/>
<circle cx="391.37" cy="146.83" r="1.85" fill="none" stroke="#111" stroke-width="0.9"/>
<circle cx="398.61" cy="156.41" r="1.85" fill="none" stroke="#111" stroke-width="0.9"/>
<circle cx="405.86" cy="151.79" r="1.85" fill="none" stroke="#111" stroke-width="0.9"/>
<circle cx="413.11" cy="149.22" r="1.85" fill="none" stroke="#111" stroke-width="0.9"/>
<circle cx="420.35" cy="150.76" r="1.85" fill="none" stroke="#111" stroke-width="0.9"/>
<circle cx="427.6" cy="130.06" r="1.85" fill="none" stroke="#111" stroke-width="0.9"/>
<circle cx="434.85" cy="154.78" r="1.85" fill="none" stroke="#111" stroke-width="0.9"/>
<circle cx="442.09" cy="144.77" r="1.85" fill="none" stroke="#111" stroke-width="0.9"/>
<circle cx="449.34" cy="158.2" r="1.85" fill="none" stroke="#111" stroke-width="0.9"/>
<circle cx="456.59" cy="144.17" r="1.85" fill="none" stroke="#111" stroke-width="0.9"/>
<circle cx="463.83" cy="156.75" r="1.85" fill="none" stroke="#111" stroke-width="0.9"/>
<circle cx="471.08" cy="148.2" r="1.85" fill="none" stroke="#111" stroke-width="0.9"/>
<circle cx="478.33" cy="149.82" r="1.85" fill="none" stroke="#111" stroke-width="0.9"/>
<circle cx="485.57" cy="154.78" r="1.85" fill="none" stroke="#111" stroke-width="0.9"/>
<circle cx="492.82" cy="149.22" r="1.85" fill="none" stroke="#111" stroke-width="0.9"/>
<circle cx="500.07" cy="155.81" r="1.85" fill="none" stroke="#111" stroke-width="0.9"/>
<circle cx="507.31" cy="147.77" r="1.85" fill="none" stroke="#111" stroke-width="0.9"/>
<circle cx="514.56" cy="148.79" r="1.85" fill="none" stroke="#111" stroke-width="0.9"/>
<circle cx="521.81" cy="156.15" r="1.85" fill="none" stroke="#111" stroke-width="0.9"/>
<circle cx="529.05" cy="156.15" r="1.85" fill="none" stroke="#111" stroke-width="0.9"/>
<circle cx="536.3" cy="155.38" r="1.85" fill="none" stroke="#111" stroke-width="0.9"/>
<polygon points="326.15,156.6 326.71,158.04 328.24,158.12 327.05,159.1 327.44,160.58 326.15,159.75 324.85,160.58 325.24,159.1 324.05,158.12 325.59,158.04" fill="#555" stroke="#111" stroke-width="0.85" stroke-linejoin="miter"/>
<polygon points="333.39,160.97 333.95,162.4 335.49,162.49 334.3,163.46 334.69,164.95 333.39,164.12 332.1,164.95 332.49,163.46 331.3,162.49 332.83,162.4" fill="#555" stroke="#111" stroke-width="0.85" stroke-linejoin="miter"/>
<polygon points="340.64,156.18 341.2,157.61 342.73,157.7 341.54,158.67 341.93,160.16 340.64,159.33 339.35,160.16 339.74,158.67 338.55,157.7 340.08,157.61" fill="#555" stroke="#111" stroke-width="0.85" stroke-linejoin="miter"/>
<polygon points="347.89,159 348.45,160.43 349.98,160.52 348.79,161.49 349.18,162.98 347.89,162.15 346.59,162.98 346.98,161.49 345.79,160.52 347.33,160.43" fill="#555" stroke="#111" stroke-width="0.85" stroke-linejoin="miter"/>
<polygon points="355.13,161.22 355.69,162.65 357.23,162.74 356.04,163.72 356.43,165.2 355.13,164.37 353.84,165.2 354.23,163.72 353.04,162.74 354.57,162.65" fill="#555" stroke="#111" stroke-width="0.85" stroke-linejoin="miter"/>
<polygon points="362.38,163.96 362.94,165.39 364.47,165.48 363.28,166.45 363.67,167.94 362.38,167.11 361.09,167.94 361.48,166.45 360.29,165.48 361.82,165.39" fill="#555" stroke="#111" stroke-width="0.85" stroke-linejoin="miter"/>
<polygon points="369.63,158.14 370.19,159.58 371.72,159.66 370.53,160.64 370.92,162.12 369.63,161.29 368.33,162.12 368.72,160.64 367.53,159.66 369.07,159.58" fill="#555" stroke="#111" stroke-width="0.85" stroke-linejoin="miter"/>
<polygon points="376.87,148.99 377.43,150.42 378.97,150.51 377.78,151.48 378.17,152.97 376.87,152.14 375.58,152.97 375.97,151.48 374.78,150.51 376.31,150.42" fill="#555" stroke="#111" stroke-width="0.85" stroke-linejoin="miter"/>
<polygon points="384.12,147.62 384.68,149.05 386.21,149.14 385.02,150.11 385.41,151.6 384.12,150.77 382.83,151.6 383.22,150.11 382.03,149.14 383.56,149.05" fill="#555" stroke="#111" stroke-width="0.85" stroke-linejoin="miter"/>
<polygon points="391.37,163.19 391.93,164.62 393.46,164.71 392.27,165.68 392.66,167.17 391.37,166.34 390.07,167.17 390.46,165.68 389.27,164.71 390.81,164.62" fill="#555" stroke="#111" stroke-width="0.85" stroke-linejoin="miter"/>
<polygon points="398.61,150.96 399.17,152.39 400.71,152.48 399.52,153.45 399.91,154.94 398.61,154.11 397.32,154.94 397.71,153.45 396.52,152.48 398.05,152.39" fill="#555" stroke="#111" stroke-width="0.85" stroke-linejoin="miter"/>
<polygon points="405.86,162.93 406.42,164.37 407.95,164.45 406.76,165.43 407.15,166.91 405.86,166.08 404.57,166.91 404.96,165.43 403.77,164.45 405.3,164.37" fill="#555" stroke="#111" stroke-width="0.85" stroke-linejoin="miter"/>
<polygon points="413.11,162.68 413.67,164.11 415.2,164.2 414.01,165.17 414.4,166.66 413.11,165.83 411.81,166.66 412.2,165.17 411.01,164.2 412.55,164.11" fill="#555" stroke="#111" stroke-width="0.85" stroke-linejoin="miter"/>
<polygon points="420.35,164.65 420.91,166.08 422.45,166.17 421.26,167.14 421.65,168.63 420.35,167.8 419.06,168.63 419.45,167.14 418.26,166.17 419.79,166.08" fill="#555" stroke="#111" stroke-width="0.85" stroke-linejoin="miter"/>
<polygon points="427.6,164.65 428.16,166.08 429.69,166.17 428.5,167.14 428.89,168.63 427.6,167.8 426.31,168.63 426.7,167.14 425.51,166.17 427.04,166.08" fill="#555" stroke="#111" stroke-width="0.85" stroke-linejoin="miter"/>
<polygon points="434.85,166.53 435.41,167.96 436.94,168.05 435.75,169.02 436.14,170.51 434.85,169.68 433.55,170.51 433.94,169.02 432.75,168.05 434.29,167.96" fill="#555" stroke="#111" stroke-width="0.85" stroke-linejoin="miter"/>
<polygon points="442.09,159.94 442.65,161.37 444.19,161.46 443,162.43 443.39,163.92 442.09,163.09 440.8,163.92 441.19,162.43 440,161.46 441.53,161.37" fill="#555" stroke="#111" stroke-width="0.85" stroke-linejoin="miter"/>
<polygon points="449.34,159.94 449.9,161.37 451.43,161.46 450.24,162.43 450.63,163.92 449.34,163.09 448.05,163.92 448.44,162.43 447.25,161.46 448.78,161.37" fill="#555" stroke="#111" stroke-width="0.85" stroke-linejoin="miter"/>
<polygon points="456.59,151.98 457.15,153.42 458.68,153.5 457.49,154.48 457.88,155.96 456.59,155.13 455.29,155.96 455.68,154.48 454.49,153.5 456.03,153.42" fill="#555" stroke="#111" stroke-width="0.85" stroke-linejoin="miter"/>
<polygon points="463.83,155.23 464.39,156.67 465.93,156.76 464.74,157.73 465.13,159.21 463.83,158.38 462.54,159.21 462.93,157.73 461.74,156.76 463.27,156.67" fill="#555" stroke="#111" stroke-width="0.85" stroke-linejoin="miter"/>
<polygon points="471.08,159.94 471.64,161.37 473.17,161.46 471.98,162.43 472.37,163.92 471.08,163.09 469.79,163.92 470.18,162.43 468.99,161.46 470.52,161.37" fill="#555" stroke="#111" stroke-width="0.85" stroke-linejoin="miter"/>
<polygon points="478.33,159.94 478.89,161.37 480.42,161.46 479.23,162.43 479.62,163.92 478.33,163.09 477.03,163.92 477.42,162.43 476.23,161.46 477.77,161.37" fill="#555" stroke="#111" stroke-width="0.85" stroke-linejoin="miter"/>
<polygon points="485.57,159.94 486.13,161.37 487.67,161.46 486.48,162.43 486.87,163.92 485.57,163.09 484.28,163.92 484.67,162.43 483.48,161.46 485.01,161.37" fill="#555" stroke="#111" stroke-width="0.85" stroke-linejoin="miter"/>
<polygon points="492.82,162.59 493.38,164.02 494.91,164.11 493.72,165.09 494.11,166.57 492.82,165.74 491.53,166.57 491.92,165.09 490.73,164.11 492.26,164.02" fill="#555" stroke="#111" stroke-width="0.85" stroke-linejoin="miter"/>
<polygon points="500.07,156 500.63,157.44 502.16,157.53 500.97,158.5 501.36,159.98 500.07,159.15 498.77,159.98 499.16,158.5 497.97,157.53 499.51,157.44" fill="#555" stroke="#111" stroke-width="0.85" stroke-linejoin="miter"/>
<polygon points="507.31,155.23 507.87,156.67 509.41,156.76 508.22,157.73 508.61,159.21 507.31,158.38 506.02,159.21 506.41,157.73 505.22,156.76 506.75,156.67" fill="#555" stroke="#111" stroke-width="0.85" stroke-linejoin="miter"/>
<polygon points="514.56,157.97 515.12,159.4 516.65,159.49 515.46,160.47 515.85,161.95 514.56,161.12 513.27,161.95 513.66,160.47 512.47,159.49 514,159.4" fill="#555" stroke="#111" stroke-width="0.85" stroke-linejoin="miter"/>
<polygon points="521.81,154.55 522.37,155.98 523.9,156.07 522.71,157.04 523.1,158.53 521.81,157.7 520.51,158.53 520.9,157.04 519.71,156.07 521.25,155.98" fill="#555" stroke="#111" stroke-width="0.85" stroke-linejoin="miter"/>
<polygon points="529.05,170.63 529.61,172.07 531.15,172.15 529.96,173.13 530.35,174.61 529.05,173.78 527.76,174.61 528.15,173.13 526.96,172.15 528.49,172.07" fill="#555" stroke="#111" stroke-width="0.85" stroke-linejoin="miter"/>
<polygon points="536.3,158.66 536.86,160.09 538.39,160.18 537.2,161.15 537.59,162.64 536.3,161.81 535.01,162.64 535.4,161.15 534.21,160.18 535.74,160.09" fill="#555" stroke="#111" stroke-width="0.85" stroke-linejoin="miter"/>
</g>
<text x="318.9" y="192.9" class="tl" text-anchor="middle">0</text>
<text x="355.13" y="192.9" class="tl" text-anchor="middle">5</text>
<text x="391.37" y="192.9" class="tl" text-anchor="middle">10</text>
<text x="427.6" y="192.9" class="tl" text-anchor="middle">15</text>
<text x="463.83" y="192.9" class="tl" text-anchor="middle">20</text>
<text x="500.07" y="192.9" class="tl" text-anchor="middle">25</text>
<text x="536.3" y="192.9" class="tl" text-anchor="middle">30</text>
<text x="316.5" y="186" class="tl" text-anchor="end">2.8</text>
<text x="316.5" y="168.89" class="tl" text-anchor="end">3</text>
<text x="316.5" y="151.78" class="tl" text-anchor="end">3.2</text>
<text x="316.5" y="134.67" class="tl" text-anchor="end">3.4</text>
<text x="316.5" y="117.56" class="tl" text-anchor="end">3.6</text>
<text x="316.5" y="100.45" class="tl" text-anchor="end">3.8</text>
<text x="316.5" y="83.34" class="tl" text-anchor="end">4</text>
<text x="316.5" y="66.23" class="tl" text-anchor="end">4.2</text>
<text x="316.5" y="49.12" class="tl" text-anchor="end">4.4</text>
<text x="316.5" y="32.01" class="tl" text-anchor="end">4.6</text>
<text x="316.5" y="14.9" class="tl" text-anchor="end">4.8</text>
<text x="319.2" y="11.2" class="tl" style="font-size:7.4px">×</text>
<text x="324.7" y="10.1" class="tl" style="font-size:6.7px">10</text>
<text x="331.8" y="7.5" class="tl" style="font-size:5.1px">-15</text>
<text x="384.3" y="202.7" class="xl" textLength="86.2" lengthAdjust="spacingAndGlyphs">Observation matrix number</text>
<text transform="translate(303,97.95) rotate(-90)" class="tl" style="font-size:7.4px" text-anchor="middle">RE</text>
<rect x="483.4" y="18.4" width="46.5" height="42.9" fill="#fff" stroke="#999" stroke-width="1"/>
<line x1="485.7" y1="23.7" x2="500.4" y2="23.7" stroke="#444" stroke-width="0.75"/>
<circle cx="492.9" cy="23.7" r="0.85" fill="#111"/>
<text x="502.1" y="25.9" class="lg">Guassian</text>
<line x1="485.7" y1="31.95" x2="500.4" y2="31.95" stroke="#444" stroke-width="0.75"/>
<rect x="491.35" y="30.4" width="3.1" height="3.1" fill="#111" stroke="#444" stroke-width="0.45"/>
<text x="502.1" y="34.15" class="lg">Bernoulli</text>
<line x1="485.7" y1="40.2" x2="500.4" y2="40.2" stroke="#444" stroke-width="0.75"/>
<path d="M490.3 40.2H495.5M492.9 37.6V42.8" stroke="#222" stroke-width="0.8" fill="none"/>
<text x="502.1" y="42.4" class="lg">SVD-M</text>
<line x1="485.7" y1="48.45" x2="500.4" y2="48.45" stroke="#444" stroke-width="0.75"/>
<circle cx="492.9" cy="48.45" r="1.85" fill="none" stroke="#111" stroke-width="0.9"/>
<text x="502.1" y="50.65" class="lg">BA</text>
<line x1="485.7" y1="56.7" x2="500.4" y2="56.7" stroke="#444" stroke-width="0.75"/>
<polygon points="492.9,54.5 493.46,55.93 494.99,56.02 493.8,56.99 494.19,58.48 492.9,57.65 491.61,58.48 492,56.99 490.81,56.02 492.34,55.93" fill="#555" stroke="#111" stroke-width="0.85" stroke-linejoin="miter"/>
<text x="502.1" y="58.9" class="lg">ABA</text>
<text x="421.5" y="220.8" class="cap" text-anchor="middle">(<tspan font-weight="bold">d</tspan>)</text>
<rect x="171.5" y="240.6" width="217.9" height="171.4" fill="none" stroke="#999" stroke-width="1"/>
<path d="M171.5 412v-2M171.5 240.6v2M207.82 412v-2M207.82 240.6v2M244.13 412v-2M244.13 240.6v2M280.45 412v-2M280.45 240.6v2M316.77 412v-2M316.77 240.6v2M353.08 412v-2M353.08 240.6v2M389.4 412v-2M389.4 240.6v2M171.5 412h2M389.4 412h-2M171.5 390.57h2M389.4 390.57h-2M171.5 369.15h2M389.4 369.15h-2M171.5 347.73h2M389.4 347.73h-2M171.5 326.3h2M389.4 326.3h-2M171.5 304.88h2M389.4 304.88h-2M171.5 283.45h2M389.4 283.45h-2M171.5 262.02h2M389.4 262.02h-2M171.5 240.6h2M389.4 240.6h-2" stroke="#777" stroke-width="1" fill="none"/>
<g>
<polyline points="178.76,304.88 186.03,284.95 193.29,340.76 200.55,267.38 207.82,316.66 215.08,304.88 222.34,273.38 229.61,318.05 236.87,289.56 244.13,328.66 251.4,316.66 258.66,284.52 265.92,309.16 273.19,309.16 280.45,330.05 287.71,314.3 294.98,287.2 302.24,276.49 309.5,334.23 316.77,295.23 324.03,315.59 331.29,286.34 338.56,312.37 345.82,283.45 353.08,290.95 360.35,284.52 367.61,336.16 374.87,278.09 382.14,297.38 389.4,317.73" fill="none" stroke="#444" stroke-width="0.95" stroke-linejoin="miter"/>
<polyline points="178.76,294.59 186.03,310.02 193.29,283.99 200.55,288.06 207.82,316.66 215.08,305.95 222.34,302.73 229.61,279.7 236.87,313.77 244.13,319.34 251.4,282.7 258.66,336.16 265.92,324.48 273.19,268.99 280.45,314.3 287.71,328.23 294.98,330.05 302.24,348.26 309.5,346.33 316.77,251.31 324.03,293.31 331.29,293.31 338.56,333.69 345.82,284.52 353.08,338.51 360.35,329.62 367.61,316.12 374.87,320.3 382.14,330.48 389.4,331.87" fill="none" stroke="#444" stroke-width="0.95" stroke-linejoin="miter"/>
<polyline points="178.76,278.42 186.03,337.44 193.29,334.23 200.55,350.4 207.82,288.06 215.08,301.66 222.34,322.01 229.61,287.74 236.87,333.26 244.13,336.16 251.4,343.44 258.66,259.67 265.92,331.98 273.19,333.8 280.45,291.91 287.71,328.44 294.98,348.8 302.24,367.01 309.5,276.49 316.77,314.3 324.03,340.44 331.29,336.16 338.56,311.95 345.82,313.77 353.08,299.41 360.35,314.3 367.61,315.59 374.87,315.59 382.14,308.2 389.4,320.94" fill="none" stroke="#444" stroke-width="0.95" stroke-linejoin="miter"/>
<polyline points="178.76,384.47 186.03,377.29 193.29,384.9 200.55,385.22 207.82,389.93 215.08,379.86 222.34,393.36 229.61,376.43 236.87,389.93 244.13,370.97 251.4,388.54 258.66,375.9 265.92,392.5 273.19,389.93 280.45,395.93 287.71,380.93 294.98,378.47 302.24,381.9 309.5,385.97 316.77,379.33 324.03,379.01 331.29,379.01 338.56,379.86 345.82,369.9 353.08,384.9 360.35,377.29 367.61,389.93 374.87,395.29 382.14,380.29 389.4,384.9" fill="none" stroke="#444" stroke-width="0.95" stroke-linejoin="miter"/>
<polyline points="178.76,384.47 186.03,382.97 193.29,379.86 200.55,382.54 207.82,395.29 215.08,382.97 222.34,390.57 229.61,384.47 236.87,396.47 244.13,384.9 251.4,382.54 258.66,380.51 265.92,392.72 273.19,385.97 280.45,392.72 287.71,383.29 294.98,389.29 302.24,396.47 309.5,389.93 316.77,395.29 324.03,397.32 331.29,399.36 338.56,394.54 345.82,389.29 353.08,389.93 360.35,389.93 367.61,383.93 374.87,386.93 382.14,390.9 389.4,384.9" fill="none" stroke="#444" stroke-width="0.95" stroke-linejoin="miter"/>
<circle cx="178.76" cy="304.88" r="0.85" fill="#111"/>
<circle cx="186.03" cy="284.95" r="0.85" fill="#111"/>
<circle cx="193.29" cy="340.76" r="0.85" fill="#111"/>
<circle cx="200.55" cy="267.38" r="0.85" fill="#111"/>
<circle cx="207.82" cy="316.66" r="0.85" fill="#111"/>
<circle cx="215.08" cy="304.88" r="0.85" fill="#111"/>
<circle cx="222.34" cy="273.38" r="0.85" fill="#111"/>
<circle cx="229.61" cy="318.05" r="0.85" fill="#111"/>
<circle cx="236.87" cy="289.56" r="0.85" fill="#111"/>
<circle cx="244.13" cy="328.66" r="0.85" fill="#111"/>
<circle cx="251.4" cy="316.66" r="0.85" fill="#111"/>
<circle cx="258.66" cy="284.52" r="0.85" fill="#111"/>
<circle cx="265.92" cy="309.16" r="0.85" fill="#111"/>
<circle cx="273.19" cy="309.16" r="0.85" fill="#111"/>
<circle cx="280.45" cy="330.05" r="0.85" fill="#111"/>
<circle cx="287.71" cy="314.3" r="0.85" fill="#111"/>
<circle cx="294.98" cy="287.2" r="0.85" fill="#111"/>
<circle cx="302.24" cy="276.49" r="0.85" fill="#111"/>
<circle cx="309.5" cy="334.23" r="0.85" fill="#111"/>
<circle cx="316.77" cy="295.23" r="0.85" fill="#111"/>
<circle cx="324.03" cy="315.59" r="0.85" fill="#111"/>
<circle cx="331.29" cy="286.34" r="0.85" fill="#111"/>
<circle cx="338.56" cy="312.37" r="0.85" fill="#111"/>
<circle cx="345.82" cy="283.45" r="0.85" fill="#111"/>
<circle cx="353.08" cy="290.95" r="0.85" fill="#111"/>
<circle cx="360.35" cy="284.52" r="0.85" fill="#111"/>
<circle cx="367.61" cy="336.16" r="0.85" fill="#111"/>
<circle cx="374.87" cy="278.09" r="0.85" fill="#111"/>
<circle cx="382.14" cy="297.38" r="0.85" fill="#111"/>
<circle cx="389.4" cy="317.73" r="0.85" fill="#111"/>
<rect x="177.21" y="293.04" width="3.1" height="3.1" fill="#111" stroke="#444" stroke-width="0.45"/>
<rect x="184.48" y="308.47" width="3.1" height="3.1" fill="#111" stroke="#444" stroke-width="0.45"/>
<rect x="191.74" y="282.44" width="3.1" height="3.1" fill="#111" stroke="#444" stroke-width="0.45"/>
<rect x="199" y="286.51" width="3.1" height="3.1" fill="#111" stroke="#444" stroke-width="0.45"/>
<rect x="206.27" y="315.11" width="3.1" height="3.1" fill="#111" stroke="#444" stroke-width="0.45"/>
<rect x="213.53" y="304.4" width="3.1" height="3.1" fill="#111" stroke="#444" stroke-width="0.45"/>
<rect x="220.79" y="301.18" width="3.1" height="3.1" fill="#111" stroke="#444" stroke-width="0.45"/>
<rect x="228.06" y="278.15" width="3.1" height="3.1" fill="#111" stroke="#444" stroke-width="0.45"/>
<rect x="235.32" y="312.22" width="3.1" height="3.1" fill="#111" stroke="#444" stroke-width="0.45"/>
<rect x="242.58" y="317.79" width="3.1" height="3.1" fill="#111" stroke="#444" stroke-width="0.45"/>
<rect x="249.85" y="281.15" width="3.1" height="3.1" fill="#111" stroke="#444" stroke-width="0.45"/>
<rect x="257.11" y="334.61" width="3.1" height="3.1" fill="#111" stroke="#444" stroke-width="0.45"/>
<rect x="264.37" y="322.93" width="3.1" height="3.1" fill="#111" stroke="#444" stroke-width="0.45"/>
<rect x="271.64" y="267.44" width="3.1" height="3.1" fill="#111" stroke="#444" stroke-width="0.45"/>
<rect x="278.9" y="312.75" width="3.1" height="3.1" fill="#111" stroke="#444" stroke-width="0.45"/>
<rect x="286.16" y="326.68" width="3.1" height="3.1" fill="#111" stroke="#444" stroke-width="0.45"/>
<rect x="293.43" y="328.5" width="3.1" height="3.1" fill="#111" stroke="#444" stroke-width="0.45"/>
<rect x="300.69" y="346.71" width="3.1" height="3.1" fill="#111" stroke="#444" stroke-width="0.45"/>
<rect x="307.95" y="344.78" width="3.1" height="3.1" fill="#111" stroke="#444" stroke-width="0.45"/>
<rect x="315.22" y="249.76" width="3.1" height="3.1" fill="#111" stroke="#444" stroke-width="0.45"/>
<rect x="322.48" y="291.76" width="3.1" height="3.1" fill="#111" stroke="#444" stroke-width="0.45"/>
<rect x="329.74" y="291.76" width="3.1" height="3.1" fill="#111" stroke="#444" stroke-width="0.45"/>
<rect x="337.01" y="332.14" width="3.1" height="3.1" fill="#111" stroke="#444" stroke-width="0.45"/>
<rect x="344.27" y="282.97" width="3.1" height="3.1" fill="#111" stroke="#444" stroke-width="0.45"/>
<rect x="351.53" y="336.96" width="3.1" height="3.1" fill="#111" stroke="#444" stroke-width="0.45"/>
<rect x="358.8" y="328.07" width="3.1" height="3.1" fill="#111" stroke="#444" stroke-width="0.45"/>
<rect x="366.06" y="314.57" width="3.1" height="3.1" fill="#111" stroke="#444" stroke-width="0.45"/>
<rect x="373.32" y="318.75" width="3.1" height="3.1" fill="#111" stroke="#444" stroke-width="0.45"/>
<rect x="380.59" y="328.93" width="3.1" height="3.1" fill="#111" stroke="#444" stroke-width="0.45"/>
<rect x="387.85" y="330.32" width="3.1" height="3.1" fill="#111" stroke="#444" stroke-width="0.45"/>
<path d="M176.16 278.42H181.36M178.76 275.82V281.02" stroke="#222" stroke-width="0.8" fill="none"/>
<path d="M183.43 337.44H188.63M186.03 334.84V340.04" stroke="#222" stroke-width="0.8" fill="none"/>
<path d="M190.69 334.23H195.89M193.29 331.63V336.83" stroke="#222" stroke-width="0.8" fill="none"/>
<path d="M197.95 350.4H203.15M200.55 347.8V353" stroke="#222" stroke-width="0.8" fill="none"/>
<path d="M205.22 288.06H210.42M207.82 285.46V290.66" stroke="#222" stroke-width="0.8" fill="none"/>
<path d="M212.48 301.66H217.68M215.08 299.06V304.26" stroke="#222" stroke-width="0.8" fill="none"/>
<path d="M219.74 322.01H224.94M222.34 319.41V324.62" stroke="#222" stroke-width="0.8" fill="none"/>
<path d="M227.01 287.74H232.21M229.61 285.13V290.34" stroke="#222" stroke-width="0.8" fill="none"/>
<path d="M234.27 333.26H239.47M236.87 330.66V335.86" stroke="#222" stroke-width="0.8" fill="none"/>
<path d="M241.53 336.16H246.73M244.13 333.56V338.76" stroke="#222" stroke-width="0.8" fill="none"/>
<path d="M248.8 343.44H254M251.4 340.84V346.04" stroke="#222" stroke-width="0.8" fill="none"/>
<path d="M256.06 259.67H261.26M258.66 257.07V262.27" stroke="#222" stroke-width="0.8" fill="none"/>
<path d="M263.32 331.98H268.52M265.92 329.38V334.58" stroke="#222" stroke-width="0.8" fill="none"/>
<path d="M270.59 333.8H275.79M273.19 331.2V336.4" stroke="#222" stroke-width="0.8" fill="none"/>
<path d="M277.85 291.91H283.05M280.45 289.31V294.51" stroke="#222" stroke-width="0.8" fill="none"/>
<path d="M285.11 328.44H290.31M287.71 325.84V331.04" stroke="#222" stroke-width="0.8" fill="none"/>
<path d="M292.38 348.8H297.58M294.98 346.2V351.4" stroke="#222" stroke-width="0.8" fill="none"/>
<path d="M299.64 367.01H304.84M302.24 364.41V369.61" stroke="#222" stroke-width="0.8" fill="none"/>
<path d="M306.9 276.49H312.1M309.5 273.89V279.09" stroke="#222" stroke-width="0.8" fill="none"/>
<path d="M314.17 314.3H319.37M316.77 311.7V316.9" stroke="#222" stroke-width="0.8" fill="none"/>
<path d="M321.43 340.44H326.63M324.03 337.84V343.04" stroke="#222" stroke-width="0.8" fill="none"/>
<path d="M328.69 336.16H333.89M331.29 333.56V338.76" stroke="#222" stroke-width="0.8" fill="none"/>
<path d="M335.96 311.95H341.16M338.56 309.35V314.55" stroke="#222" stroke-width="0.8" fill="none"/>
<path d="M343.22 313.77H348.42M345.82 311.17V316.37" stroke="#222" stroke-width="0.8" fill="none"/>
<path d="M350.48 299.41H355.68M353.08 296.81V302.01" stroke="#222" stroke-width="0.8" fill="none"/>
<path d="M357.75 314.3H362.95M360.35 311.7V316.9" stroke="#222" stroke-width="0.8" fill="none"/>
<path d="M365.01 315.59H370.21M367.61 312.99V318.19" stroke="#222" stroke-width="0.8" fill="none"/>
<path d="M372.27 315.59H377.47M374.87 312.99V318.19" stroke="#222" stroke-width="0.8" fill="none"/>
<path d="M379.54 308.2H384.74M382.14 305.6V310.8" stroke="#222" stroke-width="0.8" fill="none"/>
<path d="M386.8 320.94H392M389.4 318.34V323.54" stroke="#222" stroke-width="0.8" fill="none"/>
<circle cx="178.76" cy="384.47" r="1.85" fill="none" stroke="#111" stroke-width="0.9"/>
<circle cx="186.03" cy="377.29" r="1.85" fill="none" stroke="#111" stroke-width="0.9"/>
<circle cx="193.29" cy="384.9" r="1.85" fill="none" stroke="#111" stroke-width="0.9"/>
<circle cx="200.55" cy="385.22" r="1.85" fill="none" stroke="#111" stroke-width="0.9"/>
<circle cx="207.82" cy="389.93" r="1.85" fill="none" stroke="#111" stroke-width="0.9"/>
<circle cx="215.08" cy="379.86" r="1.85" fill="none" stroke="#111" stroke-width="0.9"/>
<circle cx="222.34" cy="393.36" r="1.85" fill="none" stroke="#111" stroke-width="0.9"/>
<circle cx="229.61" cy="376.43" r="1.85" fill="none" stroke="#111" stroke-width="0.9"/>
<circle cx="236.87" cy="389.93" r="1.85" fill="none" stroke="#111" stroke-width="0.9"/>
<circle cx="244.13" cy="370.97" r="1.85" fill="none" stroke="#111" stroke-width="0.9"/>
<circle cx="251.4" cy="388.54" r="1.85" fill="none" stroke="#111" stroke-width="0.9"/>
<circle cx="258.66" cy="375.9" r="1.85" fill="none" stroke="#111" stroke-width="0.9"/>
<circle cx="265.92" cy="392.5" r="1.85" fill="none" stroke="#111" stroke-width="0.9"/>
<circle cx="273.19" cy="389.93" r="1.85" fill="none" stroke="#111" stroke-width="0.9"/>
<circle cx="280.45" cy="395.93" r="1.85" fill="none" stroke="#111" stroke-width="0.9"/>
<circle cx="287.71" cy="380.93" r="1.85" fill="none" stroke="#111" stroke-width="0.9"/>
<circle cx="294.98" cy="378.47" r="1.85" fill="none" stroke="#111" stroke-width="0.9"/>
<circle cx="302.24" cy="381.9" r="1.85" fill="none" stroke="#111" stroke-width="0.9"/>
<circle cx="309.5" cy="385.97" r="1.85" fill="none" stroke="#111" stroke-width="0.9"/>
<circle cx="316.77" cy="379.33" r="1.85" fill="none" stroke="#111" stroke-width="0.9"/>
<circle cx="324.03" cy="379.01" r="1.85" fill="none" stroke="#111" stroke-width="0.9"/>
<circle cx="331.29" cy="379.01" r="1.85" fill="none" stroke="#111" stroke-width="0.9"/>
<circle cx="338.56" cy="379.86" r="1.85" fill="none" stroke="#111" stroke-width="0.9"/>
<circle cx="345.82" cy="369.9" r="1.85" fill="none" stroke="#111" stroke-width="0.9"/>
<circle cx="353.08" cy="384.9" r="1.85" fill="none" stroke="#111" stroke-width="0.9"/>
<circle cx="360.35" cy="377.29" r="1.85" fill="none" stroke="#111" stroke-width="0.9"/>
<circle cx="367.61" cy="389.93" r="1.85" fill="none" stroke="#111" stroke-width="0.9"/>
<circle cx="374.87" cy="395.29" r="1.85" fill="none" stroke="#111" stroke-width="0.9"/>
<circle cx="382.14" cy="380.29" r="1.85" fill="none" stroke="#111" stroke-width="0.9"/>
<circle cx="389.4" cy="384.9" r="1.85" fill="none" stroke="#111" stroke-width="0.9"/>
<polygon points="178.76,382.27 179.32,383.7 180.86,383.79 179.67,384.76 180.06,386.25 178.76,385.42 177.47,386.25 177.86,384.76 176.67,383.79 178.2,383.7" fill="#555" stroke="#111" stroke-width="0.85" stroke-linejoin="miter"/>
<polygon points="186.03,380.77 186.59,382.2 188.12,382.29 186.93,383.26 187.32,384.75 186.03,383.92 184.73,384.75 185.12,383.26 183.93,382.29 185.47,382.2" fill="#555" stroke="#111" stroke-width="0.85" stroke-linejoin="miter"/>
<polygon points="193.29,377.66 193.85,379.09 195.38,379.18 194.19,380.16 194.58,381.64 193.29,380.81 192,381.64 192.39,380.16 191.2,379.18 192.73,379.09" fill="#555" stroke="#111" stroke-width="0.85" stroke-linejoin="miter"/>
<polygon points="200.55,380.34 201.11,381.77 202.65,381.86 201.46,382.83 201.85,384.32 200.55,383.49 199.26,384.32 199.65,382.83 198.46,381.86 199.99,381.77" fill="#555" stroke="#111" stroke-width="0.85" stroke-linejoin="miter"/>
<polygon points="207.82,393.09 208.38,394.52 209.91,394.61 208.72,395.58 209.11,397.07 207.82,396.24 206.52,397.07 206.91,395.58 205.72,394.61 207.26,394.52" fill="#555" stroke="#111" stroke-width="0.85" stroke-linejoin="miter"/>
<polygon points="215.08,380.77 215.64,382.2 217.17,382.29 215.98,383.26 216.37,384.75 215.08,383.92 213.79,384.75 214.18,383.26 212.99,382.29 214.52,382.2" fill="#555" stroke="#111" stroke-width="0.85" stroke-linejoin="miter"/>
<polygon points="222.34,388.38 222.9,389.81 224.44,389.9 223.25,390.87 223.64,392.35 222.34,391.52 221.05,392.35 221.44,390.87 220.25,389.9 221.78,389.81" fill="#555" stroke="#111" stroke-width="0.85" stroke-linejoin="miter"/>
<polygon points="229.61,382.27 230.17,383.7 231.7,383.79 230.51,384.76 230.9,386.25 229.61,385.42 228.31,386.25 228.7,384.76 227.51,383.79 229.05,383.7" fill="#555" stroke="#111" stroke-width="0.85" stroke-linejoin="miter"/>
<polygon points="236.87,394.27 237.43,395.7 238.96,395.79 237.77,396.76 238.16,398.25 236.87,397.42 235.58,398.25 235.97,396.76 234.78,395.79 236.31,395.7" fill="#555" stroke="#111" stroke-width="0.85" stroke-linejoin="miter"/>
<polygon points="244.13,382.7 244.69,384.13 246.23,384.22 245.04,385.19 245.43,386.68 244.13,385.85 242.84,386.68 243.23,385.19 242.04,384.22 243.57,384.13" fill="#555" stroke="#111" stroke-width="0.85" stroke-linejoin="miter"/>
<polygon points="251.4,380.34 251.96,381.77 253.49,381.86 252.3,382.83 252.69,384.32 251.4,383.49 250.1,384.32 250.49,382.83 249.3,381.86 250.84,381.77" fill="#555" stroke="#111" stroke-width="0.85" stroke-linejoin="miter"/>
<polygon points="258.66,378.31 259.22,379.74 260.75,379.83 259.56,380.8 259.95,382.29 258.66,381.46 257.37,382.29 257.76,380.8 256.57,379.83 258.1,379.74" fill="#555" stroke="#111" stroke-width="0.85" stroke-linejoin="miter"/>
<polygon points="265.92,390.52 266.48,391.95 268.02,392.04 266.83,393.01 267.22,394.5 265.92,393.67 264.63,394.5 265.02,393.01 263.83,392.04 265.36,391.95" fill="#555" stroke="#111" stroke-width="0.85" stroke-linejoin="miter"/>
<polygon points="273.19,383.77 273.75,385.2 275.28,385.29 274.09,386.26 274.48,387.75 273.19,386.92 271.89,387.75 272.28,386.26 271.09,385.29 272.63,385.2" fill="#555" stroke="#111" stroke-width="0.85" stroke-linejoin="miter"/>
<polygon points="280.45,390.52 281.01,391.95 282.54,392.04 281.35,393.01 281.74,394.5 280.45,393.67 279.16,394.5 279.55,393.01 278.36,392.04 279.89,391.95" fill="#555" stroke="#111" stroke-width="0.85" stroke-linejoin="miter"/>
<polygon points="287.71,381.09 288.27,382.52 289.81,382.61 288.62,383.58 289.01,385.07 287.71,384.24 286.42,385.07 286.81,383.58 285.62,382.61 287.15,382.52" fill="#555" stroke="#111" stroke-width="0.85" stroke-linejoin="miter"/>
<polygon points="294.98,387.09 295.54,388.52 297.07,388.61 295.88,389.58 296.27,391.07 294.98,390.24 293.68,391.07 294.07,389.58 292.88,388.61 294.42,388.52" fill="#555" stroke="#111" stroke-width="0.85" stroke-linejoin="miter"/>
<polygon points="302.24,394.27 302.8,395.7 304.33,395.79 303.14,396.76 303.53,398.25 302.24,397.42 300.95,398.25 301.34,396.76 300.15,395.79 301.68,395.7" fill="#555" stroke="#111" stroke-width="0.85" stroke-linejoin="miter"/>
<polygon points="309.5,387.73 310.06,389.16 311.6,389.25 310.41,390.23 310.8,391.71 309.5,390.88 308.21,391.71 308.6,390.23 307.41,389.25 308.94,389.16" fill="#555" stroke="#111" stroke-width="0.85" stroke-linejoin="miter"/>
<polygon points="316.77,393.09 317.33,394.52 318.86,394.61 317.67,395.58 318.06,397.07 316.77,396.24 315.47,397.07 315.86,395.58 314.67,394.61 316.21,394.52" fill="#555" stroke="#111" stroke-width="0.85" stroke-linejoin="miter"/>
<polygon points="324.03,395.12 324.59,396.56 326.12,396.64 324.93,397.62 325.32,399.1 324.03,398.27 322.74,399.1 323.13,397.62 321.94,396.64 323.47,396.56" fill="#555" stroke="#111" stroke-width="0.85" stroke-linejoin="miter"/>
<polygon points="331.29,397.16 331.85,398.59 333.39,398.68 332.2,399.65 332.59,401.14 331.29,400.31 330,401.14 330.39,399.65 329.2,398.68 330.73,398.59" fill="#555" stroke="#111" stroke-width="0.85" stroke-linejoin="miter"/>
<polygon points="338.56,392.34 339.12,393.77 340.65,393.86 339.46,394.83 339.85,396.32 338.56,395.49 337.26,396.32 337.65,394.83 336.46,393.86 338,393.77" fill="#555" stroke="#111" stroke-width="0.85" stroke-linejoin="miter"/>
<polygon points="345.82,387.09 346.38,388.52 347.91,388.61 346.72,389.58 347.11,391.07 345.82,390.24 344.53,391.07 344.92,389.58 343.73,388.61 345.26,388.52" fill="#555" stroke="#111" stroke-width="0.85" stroke-linejoin="miter"/>
<polygon points="353.08,387.73 353.64,389.16 355.18,389.25 353.99,390.23 354.38,391.71 353.08,390.88 351.79,391.71 352.18,390.23 350.99,389.25 352.52,389.16" fill="#555" stroke="#111" stroke-width="0.85" stroke-linejoin="miter"/>
<polygon points="360.35,387.73 360.91,389.16 362.44,389.25 361.25,390.23 361.64,391.71 360.35,390.88 359.05,391.71 359.44,390.23 358.25,389.25 359.79,389.16" fill="#555" stroke="#111" stroke-width="0.85" stroke-linejoin="miter"/>
<polygon points="367.61,381.73 368.17,383.16 369.7,383.25 368.51,384.23 368.9,385.71 367.61,384.88 366.32,385.71 366.71,384.23 365.52,383.25 367.05,383.16" fill="#555" stroke="#111" stroke-width="0.85" stroke-linejoin="miter"/>
<polygon points="374.87,384.73 375.43,386.16 376.97,386.25 375.78,387.23 376.17,388.71 374.87,387.88 373.58,388.71 373.97,387.23 372.78,386.25 374.31,386.16" fill="#555" stroke="#111" stroke-width="0.85" stroke-linejoin="miter"/>
<polygon points="382.14,388.7 382.7,390.13 384.23,390.22 383.04,391.19 383.43,392.68 382.14,391.85 380.84,392.68 381.23,391.19 380.04,390.22 381.58,390.13" fill="#555" stroke="#111" stroke-width="0.85" stroke-linejoin="miter"/>
<polygon points="389.4,382.7 389.96,384.13 391.49,384.22 390.3,385.19 390.69,386.68 389.4,385.85 388.11,386.68 388.5,385.19 387.31,384.22 388.84,384.13" fill="#555" stroke="#111" stroke-width="0.85" stroke-linejoin="miter"/>
</g>
<text x="171.5" y="421.8" class="tl" text-anchor="middle">0</text>
<text x="207.82" y="421.8" class="tl" text-anchor="middle">5</text>
<text x="244.13" y="421.8" class="tl" text-anchor="middle">10</text>
<text x="280.45" y="421.8" class="tl" text-anchor="middle">15</text>
<text x="316.77" y="421.8" class="tl" text-anchor="middle">20</text>
<text x="353.08" y="421.8" class="tl" text-anchor="middle">25</text>
<text x="389.4" y="421.8" class="tl" text-anchor="middle">30</text>
<text x="169.1" y="414.9" class="tl" text-anchor="end">2.8</text>
<text x="169.1" y="393.47" class="tl" text-anchor="end">3</text>
<text x="169.1" y="372.05" class="tl" text-anchor="end">3.2</text>
<text x="169.1" y="350.62" class="tl" text-anchor="end">3.4</text>
<text x="169.1" y="329.2" class="tl" text-anchor="end">3.6</text>
<text x="169.1" y="307.77" class="tl" text-anchor="end">3.8</text>
<text x="169.1" y="286.35" class="tl" text-anchor="end">4</text>
<text x="169.1" y="264.92" class="tl" text-anchor="end">4.2</text>
<text x="169.1" y="243.5" class="tl" text-anchor="end">4.4</text>
<text x="171.8" y="239.8" class="tl" style="font-size:7.4px">×</text>
<text x="177.3" y="238.7" class="tl" style="font-size:6.7px">10</text>
<text x="184.4" y="236.1" class="tl" style="font-size:5.1px">-15</text>
<text x="237.15" y="431.6" class="xl" textLength="86.2" lengthAdjust="spacingAndGlyphs">Observation matrix number</text>
<text transform="translate(155.6,326.7) rotate(-90)" class="tl" style="font-size:7.4px" text-anchor="middle">RE</text>
<rect x="336.4" y="247.5" width="46.2" height="42.6" fill="#fff" stroke="#999" stroke-width="1"/>
<line x1="338.7" y1="252.8" x2="353.4" y2="252.8" stroke="#444" stroke-width="0.75"/>
<circle cx="345.9" cy="252.8" r="0.85" fill="#111"/>
<text x="355.1" y="255" class="lg">Guassian</text>
<line x1="338.7" y1="261.05" x2="353.4" y2="261.05" stroke="#444" stroke-width="0.75"/>
<rect x="344.35" y="259.5" width="3.1" height="3.1" fill="#111" stroke="#444" stroke-width="0.45"/>
<text x="355.1" y="263.25" class="lg">Bernoulli</text>
<line x1="338.7" y1="269.3" x2="353.4" y2="269.3" stroke="#444" stroke-width="0.75"/>
<path d="M343.3 269.3H348.5M345.9 266.7V271.9" stroke="#222" stroke-width="0.8" fill="none"/>
<text x="355.1" y="271.5" class="lg">SVD-M</text>
<line x1="338.7" y1="277.55" x2="353.4" y2="277.55" stroke="#444" stroke-width="0.75"/>
<circle cx="345.9" cy="277.55" r="1.85" fill="none" stroke="#111" stroke-width="0.9"/>
<text x="355.1" y="279.75" class="lg">BA</text>
<line x1="338.7" y1="285.8" x2="353.4" y2="285.8" stroke="#444" stroke-width="0.75"/>
<polygon points="345.9,283.6 346.46,285.03 347.99,285.12 346.8,286.09 347.19,287.58 345.9,286.75 344.61,287.58 345,286.09 343.81,285.12 345.34,285.03" fill="#555" stroke="#111" stroke-width="0.85" stroke-linejoin="miter"/>
<text x="355.1" y="288" class="lg">ABA</text>
<text x="275.6" y="450.2" class="cap" text-anchor="middle">(<tspan font-weight="bold">e</tspan>)</text>
</svg>
</body></html>
